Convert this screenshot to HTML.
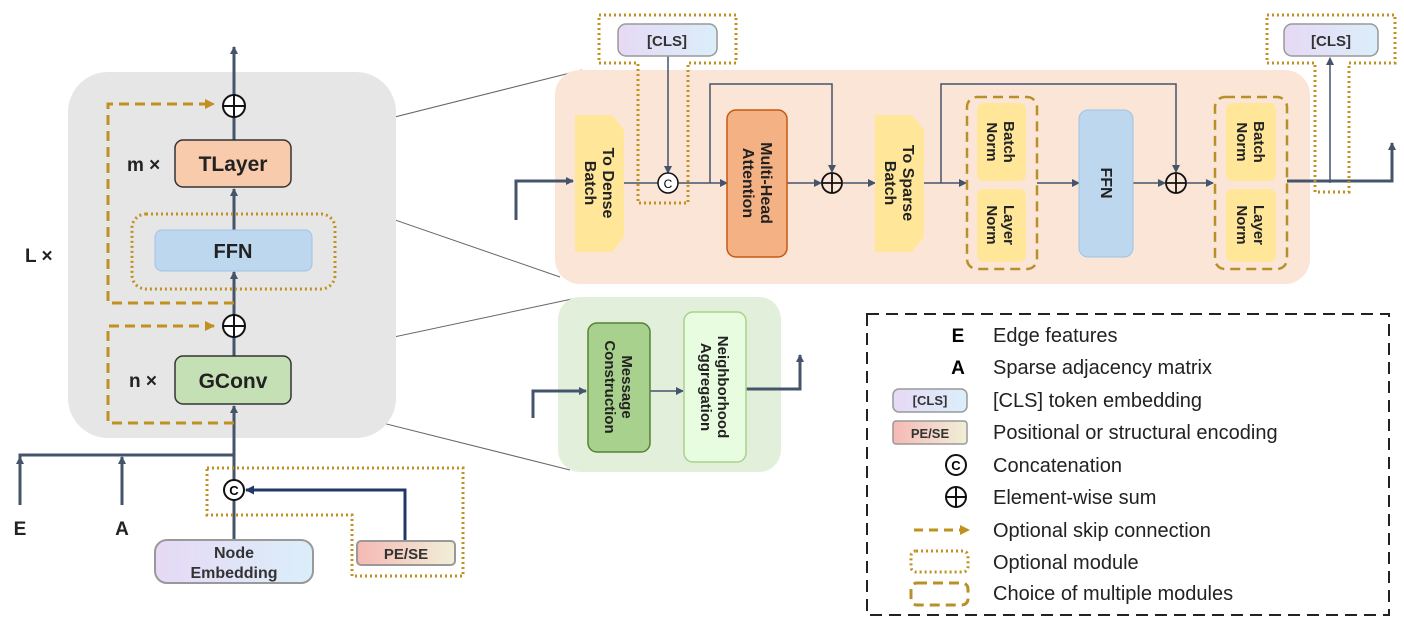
<!DOCTYPE html>
<html><head><meta charset="utf-8"><style>
html,body{margin:0;padding:0;background:#fff;}
svg{display:block;font-family:"Liberation Sans","DejaVu Sans",sans-serif;}
</style></head><body>
<svg width="1404" height="634" viewBox="0 0 1404 634" xmlns="http://www.w3.org/2000/svg">
<defs>
<marker id="ah" markerWidth="8" markerHeight="8" refX="7" refY="4" orient="auto" markerUnits="userSpaceOnUse"><path d="M0,0 L8,4 L0,8 z" fill="#44546a"/></marker>
<marker id="ahb" markerWidth="9" markerHeight="9" refX="8" refY="4.5" orient="auto" markerUnits="userSpaceOnUse"><path d="M0,0 L9,4.5 L0,9 z" fill="#1f3864"/></marker>
<marker id="aho" markerWidth="10" markerHeight="10" refX="9" refY="5" orient="auto" markerUnits="userSpaceOnUse"><path d="M0,0 L10,5 L0,10 z" fill="#c09020"/></marker>
<linearGradient id="gcls" x1="0" x2="1"><stop offset="0" stop-color="#e6d9f5"/><stop offset="1" stop-color="#dbeefa"/></linearGradient>
<linearGradient id="gpe" x1="0" x2="1"><stop offset="0" stop-color="#f6b9b4"/><stop offset="1" stop-color="#f0efd8"/></linearGradient>
</defs>

<!-- connector lines -->
<g stroke="#666" stroke-width="1" fill="none">
<line x1="291" y1="143" x2="582" y2="70"/>
<line x1="291" y1="184" x2="560" y2="277"/>
<line x1="291" y1="359" x2="572" y2="299"/>
<line x1="291" y1="400" x2="570" y2="470"/>
</g>

<!-- left gray -->
<rect x="68" y="72" width="328" height="366" rx="40" fill="#e6e6e6"/>
<g stroke="#44546a" stroke-width="3" fill="none">
<line x1="234" y1="140" x2="234" y2="47" marker-end="url(#ah)"/>
<line x1="234" y1="230" x2="234" y2="189" marker-end="url(#ah)"/>
<line x1="234" y1="356" x2="234" y2="272" marker-end="url(#ah)"/>
<line x1="234" y1="540" x2="234" y2="406" marker-end="url(#ah)"/>
<polyline points="20,505 20,455 234,455"/>
<line x1="20" y1="505" x2="20" y2="457" marker-end="url(#ah)"/>
<line x1="122" y1="505" x2="122" y2="457" marker-end="url(#ah)"/>
</g>
<polyline points="405,541 405,490 246,490" stroke="#1f3864" stroke-width="3" fill="none" marker-end="url(#ahb)"/>
<!-- dashed skips -->
<g stroke="#c09020" stroke-width="3" fill="none" stroke-dasharray="10,6">
<polyline points="234,303 108,303 108,104 214,104" marker-end="url(#aho)"/>
<polyline points="234,423 108,423 108,326 214,326" marker-end="url(#aho)"/>
</g>
<!-- sums -->
<g stroke="#111" stroke-width="2" fill="#fff">
<circle cx="234" cy="106" r="11"/><line x1="223" y1="106" x2="245" y2="106"/><line x1="234" y1="95" x2="234" y2="117"/>
<circle cx="234" cy="326" r="11"/><line x1="223" y1="326" x2="245" y2="326"/><line x1="234" y1="315" x2="234" y2="337"/>
</g>
<rect x="175" y="140" width="116" height="47" rx="8" fill="#f8cbad" stroke="#333" stroke-width="1.5"/>
<text x="233" y="171" font-size="21" font-weight="bold" text-anchor="middle" fill="#222">TLayer</text>
<text x="127" y="171" font-size="19" font-weight="bold" fill="#222">m ×</text>
<rect x="132" y="214" width="203" height="75" rx="14" fill="none" stroke="#c09020" stroke-width="3" stroke-dasharray="2,3"/>
<rect x="155" y="230" width="157" height="41" rx="7" fill="#bdd7ee" stroke="#9dc3e6"/>
<text x="233" y="258" font-size="20" font-weight="bold" text-anchor="middle" fill="#222">FFN</text>
<rect x="175" y="356" width="116" height="48" rx="8" fill="#c5e0b4" stroke="#333" stroke-width="1.5"/>
<text x="233" y="388" font-size="21" font-weight="bold" text-anchor="middle" fill="#222">GConv</text>
<text x="129" y="387" font-size="19" font-weight="bold" fill="#222">n ×</text>
<text x="25" y="262" font-size="19" font-weight="bold" fill="#222">L ×</text>
<text x="20" y="535" font-size="19" font-weight="bold" text-anchor="middle" fill="#222">E</text>
<text x="122" y="535" font-size="19" font-weight="bold" text-anchor="middle" fill="#222">A</text>
<polygon points="207,468 463,468 463,576 352,576 352,515 207,515" fill="none" stroke="#c09020" stroke-width="3" stroke-dasharray="2,3"/>
<circle cx="234" cy="490" r="10" fill="#fff" stroke="#111" stroke-width="2"/>
<text x="234" y="495" font-size="13" font-weight="bold" text-anchor="middle">C</text>
<rect x="155" y="540" width="158" height="43" rx="12" fill="url(#gcls)" stroke="#999" stroke-width="2"/>
<text x="234" y="558" font-size="16" font-weight="bold" text-anchor="middle" fill="#333">Node</text>
<text x="234" y="578" font-size="16" font-weight="bold" text-anchor="middle" fill="#333">Embedding</text>
<rect x="357" y="541" width="98" height="24" rx="4" fill="url(#gpe)" stroke="#999" stroke-width="2"/>
<text x="406" y="559" font-size="15" font-weight="bold" text-anchor="middle" fill="#333">PE/SE</text>

<!-- top right peach -->
<rect x="555" y="70" width="755" height="214" rx="25" fill="#fbe5d6"/>
<g stroke="#44546a" stroke-width="1.5" fill="none">
<line x1="624" y1="183" x2="658" y2="183"/>
<line x1="678" y1="183" x2="727" y2="183" marker-end="url(#ah)"/>
<polyline points="710,183 710,84 832,84 832,172" marker-end="url(#ah)"/>
<line x1="787" y1="183" x2="821" y2="183" marker-end="url(#ah)"/>
<line x1="843" y1="183" x2="875" y2="183" marker-end="url(#ah)"/>
<line x1="924" y1="183" x2="966" y2="183" marker-end="url(#ah)"/>
<polyline points="941,183 941,84 1176,84 1176,172" marker-end="url(#ah)"/>
<line x1="1037" y1="183" x2="1079" y2="183" marker-end="url(#ah)"/>
<line x1="1133" y1="183" x2="1165" y2="183" marker-end="url(#ah)"/>
<line x1="1187" y1="183" x2="1213" y2="183" marker-end="url(#ah)"/>
<line x1="668" y1="56" x2="668" y2="173" marker-end="url(#ah)"/>
<line x1="1330" y1="183" x2="1330" y2="58" marker-end="url(#ah)"/>
</g>
<polyline points="516,220 516,181 573,181" stroke="#44546a" stroke-width="3" fill="none" marker-end="url(#ah)"/>
<polyline points="1287,181 1392,181 1392,143" stroke="#44546a" stroke-width="3" fill="none" marker-end="url(#ah)"/>
<!-- trapezoids -->
<polygon points="575,115 612,115 624,130 624,237 612,252 575,252" fill="#ffe699"/>
<polygon points="875,115 912,115 924,130 924,237 912,252 875,252" fill="#ffe699"/>
<g font-size="16" font-weight="bold" fill="#222" text-anchor="middle">
<text transform="translate(599,183) rotate(90)"><tspan x="0" y="-4">To Dense</tspan><tspan x="0" y="14">Batch</tspan></text>
<text transform="translate(899,183) rotate(90)"><tspan x="0" y="-4">To Sparse</tspan><tspan x="0" y="14">Batch</tspan></text>
</g>
<rect x="727" y="110" width="60" height="147" rx="9" fill="#f4b183" stroke="#c55a11" stroke-width="1.5"/>
<text transform="translate(757,183) rotate(90)" font-size="16" font-weight="bold" text-anchor="middle" fill="#222"><tspan x="0" y="-4">Multi-Head</tspan><tspan x="0" y="14">Attention</tspan></text>
<rect x="1079" y="110" width="54" height="147" rx="9" fill="#bdd7ee" stroke="#9dc3e6"/>
<text transform="translate(1106,183) rotate(90)" font-size="16" font-weight="bold" text-anchor="middle" fill="#222" dy="5">FFN</text>
<!-- norm groups -->
<g>
<rect x="967" y="97" width="70" height="172" rx="10" fill="none" stroke="#b8902a" stroke-width="2.5" stroke-dasharray="10,6"/>
<rect x="977" y="103" width="49" height="78" rx="7" fill="#ffe699"/>
<rect x="977" y="189" width="49" height="73" rx="7" fill="#ffe699"/>
<rect x="1215" y="97" width="72" height="172" rx="10" fill="none" stroke="#b8902a" stroke-width="2.5" stroke-dasharray="10,6"/>
<rect x="1226" y="103" width="50" height="78" rx="7" fill="#ffe699"/>
<rect x="1226" y="189" width="50" height="73" rx="7" fill="#ffe699"/>
</g>
<g font-size="15" font-weight="bold" fill="#222" text-anchor="middle">
<text transform="translate(1001,142) rotate(90)"><tspan x="0" y="-3">Batch</tspan><tspan x="0" y="14">Norm</tspan></text>
<text transform="translate(1001,225) rotate(90)"><tspan x="0" y="-3">Layer</tspan><tspan x="0" y="14">Norm</tspan></text>
<text transform="translate(1251,142) rotate(90)"><tspan x="0" y="-3">Batch</tspan><tspan x="0" y="14">Norm</tspan></text>
<text transform="translate(1251,225) rotate(90)"><tspan x="0" y="-3">Layer</tspan><tspan x="0" y="14">Norm</tspan></text>
</g>
<circle cx="668" cy="183" r="10" fill="#fff" stroke="#111" stroke-width="1.5"/>
<text x="668" y="188" font-size="12" text-anchor="middle">C</text>
<g stroke="#111" stroke-width="1.8" fill="none">
<circle cx="832" cy="183" r="10"/><line x1="822" y1="183" x2="842" y2="183"/><line x1="832" y1="173" x2="832" y2="193"/>
<circle cx="1176" cy="183" r="10"/><line x1="1166" y1="183" x2="1186" y2="183"/><line x1="1176" y1="173" x2="1176" y2="193"/>
</g>
<!-- CLS -->
<polygon points="599,15 736,15 736,63 688,63 688,203 638,203 638,63 599,63" fill="none" stroke="#c09020" stroke-width="3" stroke-dasharray="2,3"/>
<rect x="618" y="24" width="99" height="32" rx="8" fill="url(#gcls)" stroke="#999" stroke-width="1.5"/>
<text x="667" y="46" font-size="15" font-weight="bold" text-anchor="middle" fill="#333">[CLS]</text>
<polygon points="1267,15 1395,15 1395,63 1349,63 1349,192 1315,192 1315,63 1267,63" fill="none" stroke="#c09020" stroke-width="3" stroke-dasharray="2,3"/>
<rect x="1284" y="24" width="94" height="32" rx="8" fill="url(#gcls)" stroke="#999" stroke-width="1.5"/>
<text x="1331" y="46" font-size="15" font-weight="bold" text-anchor="middle" fill="#333">[CLS]</text>

<!-- green -->
<rect x="558" y="297" width="223" height="175" rx="22" fill="#e2efda"/>
<polyline points="533,418 533,391 586,391" stroke="#44546a" stroke-width="3" fill="none" marker-end="url(#ah)"/>
<line x1="650" y1="391" x2="683" y2="391" stroke="#44546a" stroke-width="1.5" marker-end="url(#ah)"/>
<polyline points="746,389 800,389 800,355" stroke="#44546a" stroke-width="3" fill="none" marker-end="url(#ah)"/>
<rect x="588" y="323" width="62" height="129" rx="9" fill="#a9d18e" stroke="#548235" stroke-width="1.5"/>
<rect x="684" y="312" width="62" height="150" rx="9" fill="#e8fce0" stroke="#a9d18e" stroke-width="1.5"/>
<g font-size="15" font-weight="bold" fill="#222" text-anchor="middle">
<text transform="translate(619,387) rotate(90)"><tspan x="0" y="-3">Message</tspan><tspan x="0" y="14">Construction</tspan></text>
<text transform="translate(715,387) rotate(90)"><tspan x="0" y="-3">Neighborhood</tspan><tspan x="0" y="14">Aggregation</tspan></text>
</g>

<!-- legend -->
<rect x="867" y="314" width="522" height="301" fill="none" stroke="#222" stroke-width="2" stroke-dasharray="12,7"/>
<g font-size="20" fill="#222">
<text x="993" y="342">Edge features</text>
<text x="993" y="374">Sparse adjacency matrix</text>
<text x="993" y="407">[CLS] token embedding</text>
<text x="993" y="439">Positional or structural encoding</text>
<text x="993" y="472">Concatenation</text>
<text x="993" y="504">Element-wise sum</text>
<text x="993" y="537">Optional skip connection</text>
<text x="993" y="569">Optional module</text>
<text x="993" y="600">Choice of multiple modules</text>
</g>
<text x="958" y="342" font-size="19" font-weight="bold" text-anchor="middle">E</text>
<text x="958" y="374" font-size="19" font-weight="bold" text-anchor="middle">A</text>
<rect x="893" y="389" width="74" height="23" rx="6" fill="url(#gcls)" stroke="#999" stroke-width="1.5"/>
<text x="930" y="405" font-size="13" font-weight="bold" text-anchor="middle" fill="#333">[CLS]</text>
<rect x="893" y="421" width="74" height="23" rx="3" fill="url(#gpe)" stroke="#999" stroke-width="1.5"/>
<text x="930" y="438" font-size="13" font-weight="bold" text-anchor="middle" fill="#333">PE/SE</text>
<circle cx="956" cy="465" r="10" fill="none" stroke="#111" stroke-width="2"/>
<text x="956" y="470" font-size="13" font-weight="bold" text-anchor="middle">C</text>
<g stroke="#111" stroke-width="2" fill="none">
<circle cx="956" cy="497" r="10"/><line x1="946" y1="497" x2="966" y2="497"/><line x1="956" y1="487" x2="956" y2="507"/>
</g>
<line x1="914" y1="530" x2="960" y2="530" stroke="#c09020" stroke-width="3" stroke-dasharray="9,6"/>
<path d="M960,525 L970,530 L960,535 z" fill="#c09020"/>
<rect x="911" y="551" width="57" height="21" rx="5" fill="none" stroke="#c09020" stroke-width="3" stroke-dasharray="2,3"/>
<rect x="911" y="583" width="57" height="22" rx="6" fill="none" stroke="#b8902a" stroke-width="3" stroke-dasharray="10,6"/>
</svg>
</body></html>
